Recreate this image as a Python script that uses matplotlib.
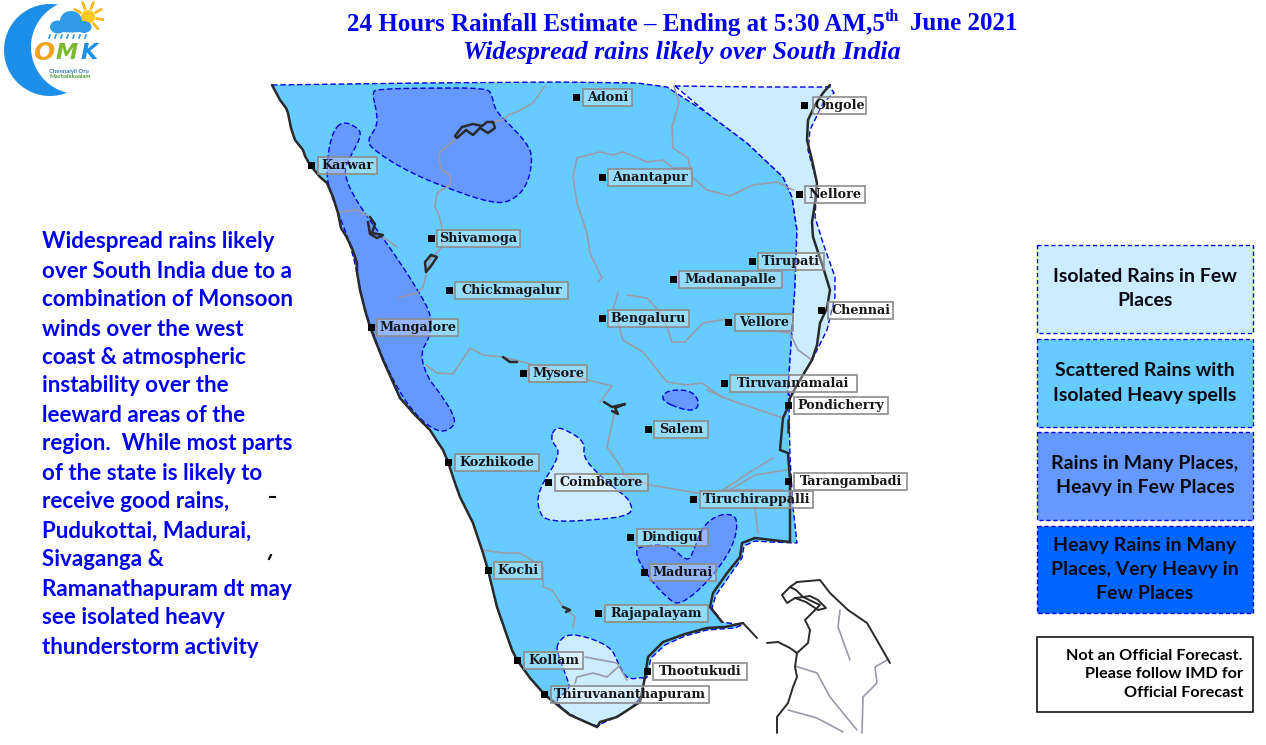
import numpy as np
import matplotlib
matplotlib.use("Agg")
import matplotlib.pyplot as plt
from matplotlib.path import Path
from matplotlib.patches import PathPatch, Rectangle, Circle, Ellipse, Polygon

W, H = 1266, 745

LIGHT = "#CCECFF"
SCATTER = "#66CCFF"
MANY = "#6699FF"
HEAVY = "#0066FF"
EDGE = "#0000E0"
TEXT_BLUE = "#0000EE"
RIVER = "#9a9aa8"
COAST = "#2a2a2a"

# map outlines
west_coast = [(272, 85), (280, 100), (286, 108), (288, 113), (291, 128), (295, 140), (303, 150), (305, 156), (310, 165),
              (320, 177), (327, 183), (333, 197), (338, 213), (341, 228), (346, 236), (352, 248), (357, 263), (357, 272),
              (360, 290), (365, 310), (370, 327), (383, 360), (392, 380), (400, 398), (415, 415), (430, 430), (437, 441),
              (443, 450), (448, 462), (455, 483), (460, 497), (473, 523), (483, 553), (488, 570), (497, 607), (505, 630),
              (512, 650), (517, 660), (530, 678), (545, 695), (570, 715), (597, 727)]
south_tip = [(597, 727), (600, 722), (617, 717), (640, 702), (645, 677), (648, 657), (663, 642), (685, 634),
             (707, 628), (725, 627), (743, 623)]
east_coast = [(722, 622), (710, 607), (713, 593), (727, 573), (740, 557), (742, 543), (755, 538), (772, 540),
              (790, 542), (790, 500), (790, 480), (788, 453), (780, 450), (783, 418), (788, 407), (790, 398),
              (797, 385), (812, 360), (817, 345), (820, 323), (827, 308), (830, 290), (823, 267), (813, 237),
              (812, 222), (815, 203), (817, 183), (812, 160), (807, 140), (808, 120), (815, 105), (823, 93), (830, 85)]
sri_lanka_east = [(797, 582), (820, 580), (830, 593), (848, 610), (867, 623), (878, 642), (890, 663)]
sri_lanka_west = [(797, 582), (790, 587), (782, 595), (787, 603), (795, 598), (803, 597), (820, 605), (812, 613),
                  (805, 620), (810, 630), (808, 643), (797, 653), (795, 667), (797, 677), (793, 687), (788, 703),
                  (777, 717), (777, 733)]
jaffna = [(790, 587), (796, 590), (803, 597), (810, 596), (818, 600), (826, 608), (818, 610), (806, 602), (795, 598)]
adams_bridge = [(743, 623), (757, 638)]
mannar = [(767, 643), (778, 642), (790, 648), (797, 653)]

main_region = [(272, 85), (420, 83), (560, 82), (637, 83), (667, 87), (707, 113), (747, 143), (783, 177),
               (792, 197), (797, 230), (795, 287), (790, 360), (788, 390), (789, 407), (790, 457), (793, 507),
               (797, 543), (770, 542), (755, 541), (744, 546), (742, 558), (730, 575), (716, 595), (712, 608),
               (722, 622), (742, 625), (735, 628), (707, 630), (685, 636), (665, 645), (651, 658), (647, 677)]
light_northeast = [(675, 86), (760, 87), (830, 87), (834, 93), (823, 103), (810, 130), (808, 150), (817, 183),
                   (815, 217), (823, 243), (835, 277), (835, 297), (827, 330), (812, 360), (797, 385), (790, 398),
                   (788, 390), (790, 360), (795, 287), (797, 230), (792, 197), (783, 177), (747, 143), (707, 113)]
many_north = [(372, 93), (377, 89), (430, 88), (487, 88), (492, 95), (495, 110), (507, 122), (527, 143),
              (533, 158), (527, 187), (510, 202), (493, 203), (460, 193), (410, 173), (373, 150), (367, 140),
              (377, 127), (377, 113)]
many_west = [(342, 121), (357, 127), (362, 135), (350, 157), (343, 173), (357, 203), (387, 243), (420, 293),
             (432, 317), (430, 337), (420, 353), (427, 377), (440, 393), (457, 420), (450, 430), (437, 432),
             (415, 415), (392, 380), (370, 327), (360, 290), (352, 248), (338, 213), (327, 183), (327, 160),
             (332, 133)]
many_salem = [(660, 400), (667, 390), (690, 390), (699, 400), (697, 410), (683, 410)]
many_madurai = [(633, 550), (647, 545), (670, 545), (687, 562), (693, 553), (702, 527), (717, 515), (733, 514),
                (738, 523), (733, 547), (710, 580), (680, 606), (667, 598), (648, 577)]
light_coimbatore = [(555, 427), (567, 430), (585, 442), (583, 457), (597, 473), (617, 490), (630, 500), (633, 515),
                    (597, 520), (547, 522), (538, 510), (538, 490), (562, 453), (550, 440)]
light_south = [(557, 643), (570, 632), (610, 645), (618, 663), (627, 680), (643, 677), (645, 680), (640, 702),
               (617, 717), (600, 724), (597, 727), (570, 715), (553, 700), (570, 690), (568, 680), (557, 653)]

rivers = [
    [(545, 86), (540, 93), (533, 103), (517, 112), (510, 114), (503, 120), (493, 122)],
    [(457, 138), (440, 152), (439, 160), (442, 170), (450, 175), (450, 185), (437, 193), (435, 207), (439, 215),
     (442, 227), (442, 247), (430, 260), (423, 287), (417, 293), (398, 298)],
    [(340, 212), (357, 210), (370, 217)],
    [(383, 237), (397, 247)],
    [(426, 365), (437, 373), (453, 374), (470, 348), (483, 355), (503, 357), (527, 363), (560, 372), (588, 380),
     (612, 386), (600, 402)],
    [(615, 410), (607, 447), (623, 470), (623, 475), (650, 485), (697, 493), (723, 490), (783, 490)],
    [(723, 490), (750, 472), (773, 458)],
    [(730, 490), (755, 475), (787, 470)],
    [(755, 507), (758, 533)],
    [(674, 86), (679, 103), (672, 127), (673, 148), (688, 158), (692, 177), (707, 190), (730, 196), (753, 185),
     (777, 182), (793, 190)],
    [(692, 168), (673, 168), (663, 160), (647, 162), (623, 152), (613, 155), (600, 152), (577, 158), (573, 177),
     (577, 203), (587, 233), (590, 253), (602, 278), (598, 282)],
    [(618, 293), (613, 310)],
    [(627, 295), (647, 298), (660, 312), (667, 327), (672, 342), (685, 342), (703, 323), (727, 319)],
    [(767, 330), (790, 333), (798, 350), (812, 360)],
    [(618, 323), (623, 340), (643, 352), (667, 382), (687, 385), (702, 383), (723, 398)],
    [(707, 390), (730, 400), (783, 418)],
    [(483, 550), (503, 553), (520, 553), (543, 567), (543, 587), (552, 590), (563, 607), (575, 617), (573, 627)],
    [(585, 657), (617, 663), (627, 680)],
    [(575, 683), (577, 677), (593, 673), (607, 677), (618, 667)],
    [(795, 666), (817, 673), (830, 697), (843, 713), (857, 730)],
    [(840, 610), (838, 627), (850, 660)],
    [(887, 660), (875, 667), (877, 683), (863, 697), (862, 733)],
    [(788, 710), (817, 718), (843, 732)],
]
lakes = [
    [(493, 122), (495, 128), (488, 133), (480, 128), (473, 135), (466, 130), (457, 138), (455, 136), (462, 127),
     (473, 124), (482, 126), (487, 122), (493, 122)],
    [(370, 217), (375, 224), (372, 233), (383, 235), (377, 238), (370, 234), (368, 222)],
    [(431, 255), (425, 262), (426, 272), (431, 266), (437, 257), (431, 255)],
    [(503, 357), (510, 362), (517, 362)],
    [(604, 402), (612, 407), (625, 404), (615, 408), (618, 414), (612, 411)],
    [(563, 607), (570, 610), (566, 612)],
    [(788, 420), (788, 432)],
]

places = ["Adoni", "Ongole", "Karwar", "Anantapur", "Nellore", "Shivamoga", "Tirupati", "Madanapalle",
          "Chickmagalur", "Chennai", "Bengaluru", "Vellore", "Mangalore", "Mysore", "Tiruvannamalai",
          "Pondicherry", "Salem", "Kozhikode", "Tarangambadi", "Coimbatore", "Tiruchirappalli", "Dindigul",
          "Kochi", "Madurai", "Rajapalayam", "Kollam", "Thootukudi", "Thiruvananthapuram"]
place_x = [576, 804, 311, 602, 799, 431, 752, 673, 449, 821, 602, 728, 371, 523, 724, 788, 648, 448, 788, 548,
           693, 630, 488, 644, 598, 517, 647, 544]
place_y = [97, 105, 165, 177, 194, 238, 261, 279, 290, 310, 318, 322, 327, 373, 383, 405, 429, 462, 481, 482,
           499, 537, 570, 572, 613, 660, 671, 694]
label_left = [583, 813, 318, 608, 805, 437, 758, 679, 455, 828, 608, 735, 377, 529, 730, 794, 654, 455, 794, 555,
              700, 637, 494, 650, 605, 524, 653, 551]
label_right = [632, 866, 377, 692, 865, 520, 824, 782, 568, 893, 689, 793, 458, 587, 857, 888, 708, 539, 907, 648,
               813, 708, 542, 716, 708, 583, 747, 709]

side_lines = ["Widespread rains likely", "over South India due to a", "combination of Monsoon", "winds over the west",
              "coast & atmospheric", "instability over the", "leeward areas of the", "region.  While most parts",
              "of the state is likely to", "receive good rains,", "Pudukottai, Madurai,", "Sivaganga &",
              "Ramanathapuram dt may", "see isolated heavy", "thunderstorm activity"]
side_y = [242, 271, 300, 329, 358, 386, 415, 444, 473, 502, 531, 559, 589, 618, 647]

legend_labels = ["Isolated Rains in Few\nPlaces", "Scattered Rains with\nIsolated Heavy spells",
                 "Rains in Many Places,\nHeavy in Few Places", "Heavy Rains in Many\nPlaces, Very Heavy in\nFew Places"]
legend_colors = [LIGHT, SCATTER, MANY, HEAVY]
legend_top = [245, 339, 432, 526]
legend_bottom = [333, 427, 520, 613]


def smooth(pts):
    # quadratic curves through the midpoints, rounds the traced corners
    pts = np.array(pts, dtype=float)
    mids = (pts + np.roll(pts, -1, axis=0)) / 2
    verts = [mids[-1]]
    codes = [Path.MOVETO]
    for p, m in zip(pts, mids):
        verts += [p, m]
        codes += [Path.CURVE3, Path.CURVE3]
    return Path(verts, codes)


def area(ax, pts, color, z):
    ax.add_patch(PathPatch(smooth(pts), facecolor=color, edgecolor=EDGE, lw=1.0, ls=(0, (4, 2)), zorder=z))


def line(ax, pts, **kw):
    xs, ys = zip(*pts)
    ax.plot(xs, ys, solid_joinstyle="round", solid_capstyle="round", **kw)


fig = plt.figure(figsize=(W / 100, H / 100), dpi=100, facecolor="white")
ax = fig.add_axes([0, 0, 1, 1])
ax.set_xlim(0, W)
ax.set_ylim(H, 0)
ax.axis("off")

# rain areas
ax.add_patch(Polygon(main_region + south_tip[:1][::-1] + west_coast[::-1], closed=True, facecolor=SCATTER,
                     edgecolor=EDGE, lw=1.0, ls=(0, (4, 2)), zorder=1))
ax.add_patch(Polygon(light_northeast, closed=True, facecolor=LIGHT, edgecolor=EDGE, lw=1.0, ls=(0, (4, 2)), zorder=2))
area(ax, light_coimbatore, LIGHT, 2)
area(ax, light_south, LIGHT, 2)
area(ax, many_north, MANY, 3)
area(ax, many_west, MANY, 3)
area(ax, many_salem, MANY, 3)
area(ax, many_madurai, MANY, 3)

for r in rivers:
    line(ax, r, color=RIVER, lw=1.2, zorder=4)
for lk in lakes:
    line(ax, lk, color=COAST, lw=1.8, zorder=4)
for c in [west_coast, south_tip, east_coast]:
    line(ax, c, color=COAST, lw=1.8, zorder=5)
for c in [sri_lanka_east, sri_lanka_west, jaffna, adams_bridge, mannar]:
    line(ax, c, color=COAST, lw=1.4, zorder=5)

# towns
for name, x, y, left, right in zip(places, place_x, place_y, label_left, label_right):
    ax.add_patch(Rectangle((x - 3.5, y - 3.5), 7, 7, facecolor="black", edgecolor="none", zorder=6))
    ax.add_patch(Rectangle((left, y - 8.5), right - left, 17, facecolor="white", alpha=0.3, edgecolor="none", zorder=6))
    ax.add_patch(Rectangle((left, y - 8.5), right - left, 17, facecolor="none", edgecolor="#8c8c8c", lw=1.2, zorder=6))
    ax.text((left + right) / 2, y + 0.5, name, family="DejaVu Serif", weight="bold", fontsize=9.2, color="#161616",
            ha="center", va="center", zorder=7)

# title
ax.text(347, 24, "24 Hours Rainfall Estimate \u2013 Ending at 5:30 AM,5", family="Liberation Serif", weight="bold",
        fontsize=18, color=TEXT_BLUE, ha="left", va="center")
ax.text(885, 17, "th", family="Liberation Serif", weight="bold", fontsize=11.5, color=TEXT_BLUE, ha="left", va="center")
ax.text(1017, 24, "June 2021", family="Liberation Serif", weight="bold", fontsize=18, color=TEXT_BLUE,
        ha="right", va="center")
ax.text(682, 53, "Widespread rains likely over South India", family="Liberation Serif", weight="bold", style="italic",
        fontsize=18.7, color=TEXT_BLUE, ha="center", va="center")

# left hand note
for s, y in zip(side_lines, side_y):
    ax.text(42, y, s, family="Lato", weight="bold", fontsize=16.1, color=TEXT_BLUE, ha="left", va="center")
ax.plot([270, 275], [497, 497], color="black", lw=1.5)
ax.plot([269, 271], [559, 555], color="black", lw=1.5)

# legend
for lab, col, top, bottom in zip(legend_labels, legend_colors, legend_top, legend_bottom):
    ax.add_patch(Rectangle((1037, top), 216, bottom - top, facecolor=col, edgecolor=EDGE, lw=1.0, ls=(0, (3, 2))))
    ax.text(1145, (top + bottom) / 2, lab, family="Lato", weight="bold", fontsize=14, color="#0a0a14",
            ha="center", va="center", linespacing=1.5)
ax.add_patch(Rectangle((1037, 637), 216, 75, facecolor="white", edgecolor="black", lw=1.1))
ax.text(1243, 674.5, "Not an Official Forecast.\nPlease follow IMD for\nOfficial Forecast", family="Lato", weight="bold",
        fontsize=11.7, color="black", ha="right", va="center", linespacing=1.44)

# logo
ax.add_patch(Circle((50, 50), 46, facecolor="#1E8FE8", edgecolor="none", zorder=1))
ax.add_patch(Circle((78, 47), 47, facecolor="white", edgecolor="none", zorder=1.1))
ax.add_patch(Circle((88, 17), 7, facecolor="#FFC81E", edgecolor="none", zorder=1.2))
for a in np.deg2rad([-150, -110, -70, -30, 10, 50]):
    ax.plot([88 + 9 * np.cos(a), 88 + 15 * np.cos(a)], [17 + 9 * np.sin(a), 17 + 15 * np.sin(a)],
            color="#F5B81E", lw=2, zorder=1.2)
for cx, cy, w, h in [(58, 27, 16, 13), (71, 21, 22, 20), (84, 27, 15, 12), (71, 28, 40, 9)]:
    ax.add_patch(Ellipse((cx, cy), w, h, facecolor="#2F9BEA", edgecolor="none", zorder=1.3))
for x in range(50, 92, 6):
    ax.plot([x, x - 1], [35, 38], color="#2F9BEA", lw=1.2, zorder=1.3)
ax.text(44, 53, "O", family="DejaVu Sans", weight="bold", style="italic", fontsize=18, color="#F2A31E", ha="center",
        va="center", zorder=1.4)
ax.text(67, 53, "M", family="DejaVu Sans", weight="bold", style="italic", fontsize=16, color="#7CB82F", ha="center",
        va="center", zorder=1.4)
ax.text(89, 53, "K", family="DejaVu Sans", weight="bold", style="italic", fontsize=16, color="#1E8FE8", ha="center",
        va="center", zorder=1.4)
ax.text(49, 71, "Chennaiyil Oru", family="Lato", weight="bold", fontsize=4.3, color="#2f77b5", ha="left", va="center",
        zorder=1.4)
ax.text(49, 77, "Mazhaikkaalam", family="Lato", weight="bold", fontsize=4.3, color="#4f9a3a", ha="left", va="center",
        zorder=1.4)

fig.savefig("out.png", dpi=100, facecolor="white")
